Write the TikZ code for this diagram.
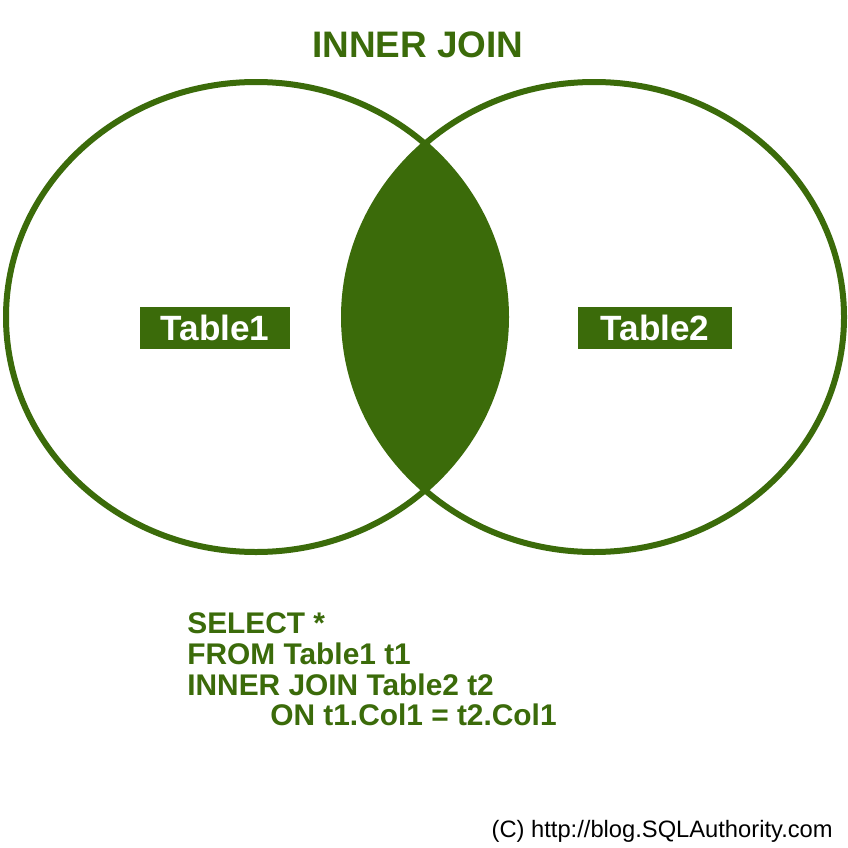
\documentclass[tikz,border=0pt]{standalone}
\usepackage{fontspec}
\setmainfont{Liberation Sans}
\definecolor{joingreen}{RGB}{59,107,10}

\begin{document}
\begin{tikzpicture}[x=0.02cm,y=-0.02cm,
  venn/.style={draw=joingreen, line width=0.12cm},
  tablebox/.style={fill=joingreen, text=white, font=\bfseries\fontsize{20}{20}\selectfont, minimum width=3cm, minimum height=0.84cm, inner sep=0pt},
  sqltext/.style={text=joingreen, font=\bfseries\fontsize{17}{17.6}\selectfont, align=left, anchor=north west, inner sep=0pt}]
\useasboundingbox [fill=white] (0,0) rectangle (848,848);
\coordinate (L) at (256,317);
\coordinate (R) at (594,317);

\begin{scope}
\clip (R) ellipse [x radius=250, y radius=235];
\fill [joingreen] (L) ellipse [x radius=250, y radius=235];
\end{scope}
\draw [venn] (L) ellipse [x radius=250, y radius=235];
\draw [venn] (R) ellipse [x radius=250, y radius=235];

\node [text=joingreen, font=\bfseries\fontsize{21}{21}\selectfont] (title) at (418,45) {INNER JOIN};
\node [tablebox] (t1) at (215,328) {Table1};
\node [tablebox, minimum width=3.1cm] (t2) at (655,328) {Table2};
\node [sqltext] (query) at (187,612) {SELECT *\\FROM Table1 t1\\INNER JOIN Table2 t2\\\hspace{1.66cm}ON t1.Col1 = t2.Col1};
\node [anchor=east, font=\fontsize{13.5}{14}\selectfont, inner sep=0pt] (credit) at (833,831) {(C) http://blog.SQLAuthority.com};
\end{tikzpicture}
\end{document}
